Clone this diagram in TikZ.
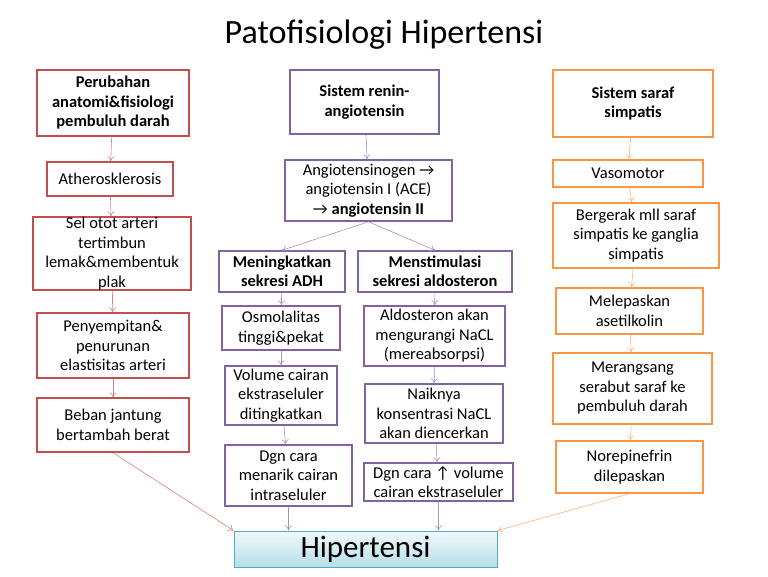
\documentclass[tikz,border=0pt]{standalone}
\usepackage{fontspec}
\setmainfont{Carlito}
\usetikzlibrary{arrows.meta}
\definecolor{cred}{HTML}{C0504D}
\definecolor{cpur}{HTML}{8064A2}
\definecolor{corg}{HTML}{F79646}
\definecolor{cblu}{HTML}{4BACC6}
\begin{document}
\begin{tikzpicture}[x=1pt,y=-1pt,
  bx/.style={draw=#1,line width=1.5pt,align=center,inner sep=0pt,font=\fontsize{16.5}{19.5}\selectfont},
  ar/.style={draw=#1!70,line width=0.6pt,-{To[length=5pt,width=7pt]}}]
\useasboundingbox (0,0) rectangle (768,576);
\newcommand\bxat[6]{\node[bx=#1,minimum width=#4-#2,minimum height=#5-#3] (#6) at ({(#2+#4)/2},{(#3+#5)/2})}
\node[font=\fontsize{34}{38}\selectfont] (title) at (384,35) {Patofisiologi Hipertensi};
% left
\bxat{cred}{37}{70}{189}{136}{b1} {\bfseries Perubahan\\\bfseries anatomi\&fisiologi\\\bfseries pembuluh darah};
\bxat{cred}{47}{162}{173}{196}{b2} {Atherosklerosis};
\bxat{cred}{33}{217}{191}{290}{b3} {Sel otot arteri\\tertimbun\\lemak\&membentuk\\plak};
\bxat{cred}{37}{313}{189}{378}{b4} {Penyempitan\&\\penurunan\\elastisitas arteri};
\bxat{cred}{37}{398}{189}{452}{b5} {Beban jantung\\bertambah berat};
% middle
\bxat{cpur}{290}{70}{439}{134}{s} {\bfseries Sistem renin-\\\bfseries angiotensin};
\bxat{cpur}{285}{160}{452}{221}{a} {Angiotensinogen →\\angiotensin I (ACE)\\→ \bfseries angiotensin II};
\bxat{cpur}{219}{251}{345}{292}{m1} {\bfseries Meningkatkan\\\bfseries sekresi ADH};
\bxat{cpur}{358}{251}{512}{292}{m2} {\bfseries Menstimulasi\\\bfseries sekresi aldosteron};
\bxat{cpur}{222}{306}{340}{350}{o} {Osmolalitas\\tinggi\&pekat};
\bxat{cpur}{225}{366}{337}{425}{v} {Volume cairan\\ekstraseluler\\ditingkatkan};
\bxat{cpur}{225}{445}{352}{506}{d1} {Dgn cara\\menarik cairan\\intraseluler};
\bxat{cpur}{364}{306}{505}{366}{al} {Aldosteron akan\\mengurangi NaCL\\(mereabsorpsi)};
\bxat{cpur}{365}{384}{503}{443}{n} {Naiknya\\konsentrasi NaCL\\akan diencerkan};
\bxat{cpur}{364}{463}{513}{501}{d2} {Dgn cara ↑ volume\\cairan ekstraseluler};
% right
\bxat{corg}{553}{70}{713}{137}{r1} {\bfseries Sistem saraf\\\bfseries simpatis};
\bxat{corg}{553}{160}{703}{187}{r2} {Vasomotor};
\bxat{corg}{553}{203}{719}{268}{r3} {Bergerak mll saraf\\simpatis ke ganglia\\simpatis};
\bxat{corg}{556}{288}{703}{334}{r4} {Melepaskan\\asetilkolin};
\bxat{corg}{553}{353}{712}{424}{r5} {Merangsang\\serabut saraf ke\\pembuluh darah};
\bxat{corg}{556}{441}{703}{493}{r6} {Norepinefrin\\dilepaskan};
% hipertensi
\node[draw=cblu,line width=1pt,top color=cblu!8,bottom color=cblu!40,minimum width=263,minimum height=36,inner sep=0pt,font=\fontsize{31}{34}\selectfont] (h) at (365.5,549) {Hipertensi};
% arrows
\foreach \p/\q in {b1/b2,b2/b3,b3/b4,b4/b5} \draw[ar=cred] (\p) -- (\q);
\foreach \p/\q in {s/a,m1/o,o/v,v/d1,m2/al,al/n,n/d2} \draw[ar=cpur] (\p) -- (\q);
\foreach \p/\q in {r1/r2,r2/r3,r3/r4,r4/r5,r5/r6} \draw[ar=corg] (\p) -- (\q);
\draw[ar=cpur] (a.south) -- (m1.north);
\draw[ar=cpur] (a.south) -- (m2.north);
\draw[ar=cpur] (d1.south) -- (d1.south |- h.north);
\draw[ar=cpur] (d2.south) -- (d2.south |- h.north);
\draw[ar=cred] (b5.south) -- (h.north west);
\draw[ar=corg] (r6.south) -- (h.north east);
\end{tikzpicture}
\end{document}
